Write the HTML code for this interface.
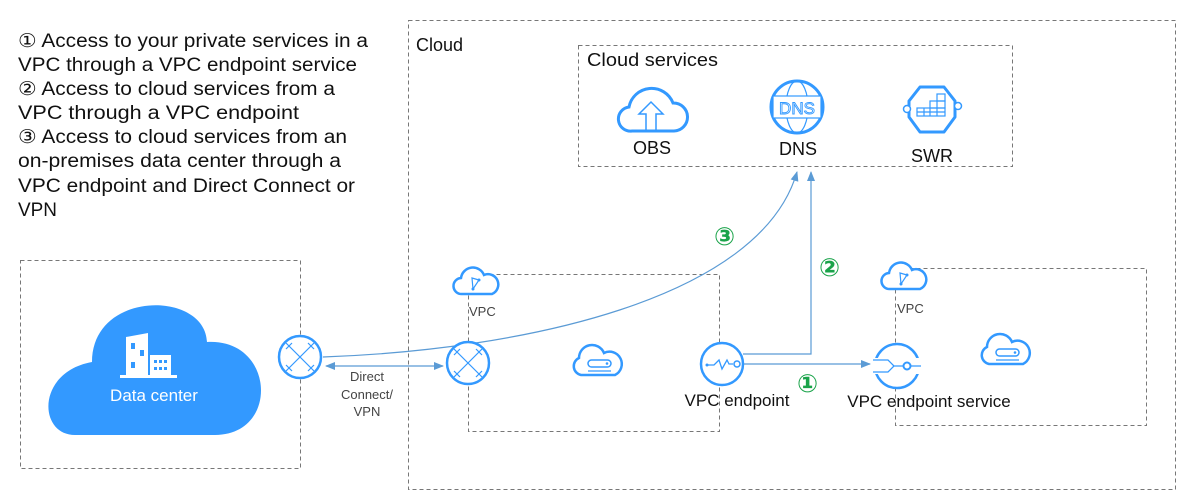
<!DOCTYPE html>
<html><head><meta charset="utf-8"><style>
body{margin:0;background:#fff;width:1192px;height:503px;overflow:hidden}
svg{display:block;font-family:"Liberation Sans","DejaVu Sans",sans-serif}
</style></head><body>
<svg width="1192" height="503" viewBox="0 0 1192 503">
<defs>
<marker id="ah" markerWidth="10" markerHeight="8" refX="9" refY="4" orient="auto" markerUnits="userSpaceOnUse"><path d="M0,0 L10,4 L0,8 z" fill="#5b9bd5"/></marker>
<marker id="ahs" markerWidth="10" markerHeight="8" refX="1" refY="4" orient="auto" markerUnits="userSpaceOnUse"><path d="M10,0 L0,4 L10,8 z" fill="#5b9bd5"/></marker>
<g id="router"><circle r="21" fill="#fff" stroke="#3399ff" stroke-width="2.5"/>
<g stroke="#3399ff" stroke-width="1.2"><line x1="-14" y1="-14" x2="14" y2="14"/><line x1="14" y1="-14" x2="-14" y2="14"/><line x1="-8" y1="-14" x2="-14" y2="-8"/><line x1="8" y1="-14" x2="14" y2="-8"/><line x1="-8" y1="14" x2="-14" y2="8"/><line x1="8" y1="14" x2="14" y2="8"/></g></g>
<g id="vpcc"><path d="M-16,10 a8,8 0 0 1 -1,-16 a12,12 0 0 1 23,-3 a9,9 0 0 1 8,19 z" fill="#fff" stroke="#3399ff" stroke-width="2.5"/><path d="M-6,-6 L1,-4 L-5,5 z" fill="none" stroke="#3399ff" stroke-width="1.2"/><circle cx="1" cy="-4" r="1.5" fill="#3399ff"/><circle cx="-5" cy="5" r="1.5" fill="#3399ff"/></g>
<g id="stor"><path d="M-19,12 a9,9 0 0 1 -2,-17 a13,13 0 0 1 25,-5 a10,10 0 0 1 11,22 z" fill="#fff" stroke="#3399ff" stroke-width="2.5"/><rect x="-12" y="-3" width="23" height="7" rx="3.5" fill="none" stroke="#3399ff" stroke-width="1.5"/><circle cx="7" cy="0.5" r="1.3" fill="#3399ff"/><line x1="-12" y1="8" x2="11" y2="8" stroke="#3399ff" stroke-width="1.2"/></g>
</defs>
<g fill="none" stroke="#777" stroke-dasharray="4,3" stroke-width="1">
<rect x="408.5" y="20.5" width="767" height="469"/>
<rect x="578.5" y="45.5" width="434" height="121"/>
<rect x="20.5" y="260.5" width="280" height="208"/>
<rect x="468.5" y="274.5" width="251" height="157"/>
<rect x="895.5" y="268.5" width="251" height="157"/>
</g>
<g font-size="19" fill="#111" lengthAdjust="spacingAndGlyphs">
<text x="18" y="47" textLength="350" lengthAdjust="spacingAndGlyphs">① Access to your private services in a</text>
<text x="18" y="71" textLength="339" lengthAdjust="spacingAndGlyphs">VPC through a VPC endpoint service</text>
<text x="18" y="95" textLength="317" lengthAdjust="spacingAndGlyphs">② Access to cloud services from a</text>
<text x="18" y="119" textLength="281" lengthAdjust="spacingAndGlyphs">VPC through a VPC endpoint</text>
<text x="18" y="143" textLength="329" lengthAdjust="spacingAndGlyphs">③ Access to cloud services from an</text>
<text x="18" y="167" textLength="323" lengthAdjust="spacingAndGlyphs">on-premises data center through a</text>
<text x="18" y="192" textLength="337" lengthAdjust="spacingAndGlyphs">VPC endpoint and Direct Connect or</text>
<text x="18" y="216" textLength="39" lengthAdjust="spacingAndGlyphs">VPN</text>
</g>
<g font-size="18" fill="#111">
<text x="416" y="51">Cloud</text>
<text x="587" y="66" textLength="131" lengthAdjust="spacingAndGlyphs">Cloud services</text>
</g>
<!-- data center cloud -->
<path d="M75,435 C38,435 36,372 92,362 C92,290 205,290 207,342 C275,338 280,435 215,435 Z" fill="#3399ff"/>
<g fill="#fff"><path d="M126,376 V337 L148,333 V376 Z"/><rect x="150" y="355" width="21" height="21"/><rect x="120" y="375" width="57" height="3"/></g>
<g fill="#3399ff"><rect x="131" y="343" width="4" height="6"/><rect x="140" y="350" width="4" height="6"/><rect x="131" y="362" width="4" height="6"/><rect x="154" y="360" width="3" height="3"/><rect x="159" y="360" width="3" height="3"/><rect x="164" y="360" width="3" height="3"/><rect x="154" y="367" width="3" height="3"/><rect x="159" y="367" width="3" height="3"/><rect x="164" y="367" width="3" height="3"/></g>
<text x="154" y="401" font-size="17" fill="#fff" text-anchor="middle">Data center</text>
<!-- connectors -->
<path d="M323,357 C520,350 760,300 797,172" fill="none" stroke="#5b9bd5" stroke-width="1.2" marker-end="url(#ah)"/>
<line x1="326" y1="366" x2="443" y2="366" stroke="#5b9bd5" stroke-width="1.2" marker-start="url(#ahs)" marker-end="url(#ah)"/>
<polyline points="743,354 811,354 811,172" fill="none" stroke="#5b9bd5" stroke-width="1.2" marker-end="url(#ah)"/>
<line x1="743" y1="364" x2="870" y2="364" stroke="#5b9bd5" stroke-width="1.2" marker-end="url(#ah)"/>
<use href="#router" x="300" y="357"/>
<use href="#router" x="468" y="363"/>
<g font-size="13" fill="#444" text-anchor="middle"><text x="367" y="381">Direct</text><text x="367" y="399">Connect/</text><text x="367" y="416">VPN</text></g>
<use href="#vpcc" x="478" y="284"/>
<text x="469" y="316" font-size="13" fill="#444">VPC</text>
<use href="#stor" x="600" y="363"/>
<!-- endpoint -->
<circle cx="722" cy="364" r="21" fill="#fff" stroke="#3399ff" stroke-width="2.5"/>
<path d="M707,365 H714 L719,360 L722,369 L727,360 L729,364 H733" fill="none" stroke="#3399ff" stroke-width="1.3"/>
<circle cx="707" cy="365" r="1.5" fill="#3399ff"/><circle cx="737" cy="364" r="3" fill="none" stroke="#3399ff" stroke-width="1.5"/>
<text x="737" y="406" font-size="17" fill="#111" text-anchor="middle">VPC endpoint</text>
<!-- endpoint service -->
<circle cx="897" cy="366" r="22" fill="#fff" stroke="#3399ff" stroke-width="2.5"/>
<rect x="872" y="358" width="50" height="16" fill="#fff"/>
<path d="M873,360 H888 L894,366 L888,372 H873 M894,366 H903 M911,366 H921" fill="none" stroke="#3399ff" stroke-width="1.3"/>
<circle cx="907" cy="366" r="3.5" fill="none" stroke="#3399ff" stroke-width="2"/>
<text x="929" y="407" font-size="17" fill="#111" text-anchor="middle">VPC endpoint service</text>
<use href="#vpcc" x="906" y="279"/>
<text x="897" y="313" font-size="13" fill="#444">VPC</text>
<use href="#stor" x="1008" y="352"/>
<!-- numbers -->
<g font-size="25" fill="#1aa34a" font-family="'DejaVu Sans',sans-serif" font-weight="bold"><text x="714" y="245">③</text><text x="819" y="276">②</text><text x="797" y="392">①</text></g>
<!-- OBS -->
<path d="M632,131 a12,12 0 0 1 -3,-24 a23,23 0 0 1 44,-4 a14,14 0 0 1 1,28 z" fill="#fff" stroke="#3399ff" stroke-width="3"/>
<path d="M646,131 V114 H639 L651,102 L663,114 H656 V131" fill="none" stroke="#3399ff" stroke-width="1.5"/>
<text x="652" y="154" font-size="18" fill="#111" text-anchor="middle">OBS</text>
<!-- DNS -->
<circle cx="797" cy="107" r="26" fill="#fff" stroke="#3399ff" stroke-width="3"/>
<ellipse cx="797" cy="107" rx="11" ry="26" fill="none" stroke="#3399ff" stroke-width="1.2"/>
<rect x="773" y="96" width="48" height="22" fill="#fff" stroke="#3399ff" stroke-width="1.2"/>
<text x="797" y="114" font-size="17" fill="#fff" stroke="#3399ff" stroke-width="0.9" text-anchor="middle">DNS</text>
<text x="798" y="155" font-size="18" fill="#111" text-anchor="middle">DNS</text>
<!-- SWR -->
<path d="M920,87 H944 L955,101 V117 L944,132 H920 L909,117 V101 Z" fill="#fff" stroke="#3399ff" stroke-width="3" stroke-linejoin="round"/>
<circle cx="907" cy="109" r="3.5" fill="#fff" stroke="#3399ff" stroke-width="1.5"/><circle cx="958" cy="106" r="3.5" fill="#fff" stroke="#3399ff" stroke-width="1.5"/>
<g fill="none" stroke="#3399ff" stroke-width="1.2"><rect x="917" y="108" width="28" height="8"/><rect x="930" y="101" width="15" height="7"/><rect x="937" y="94" width="8" height="7"/><line x1="924" y1="108" x2="924" y2="116"/><line x1="930" y1="108" x2="930" y2="116"/><line x1="937" y1="101" x2="937" y2="116"/><line x1="917" y1="112" x2="945" y2="112"/></g>
<text x="932" y="162" font-size="18" fill="#111" text-anchor="middle">SWR</text>
</svg>
</body></html>
